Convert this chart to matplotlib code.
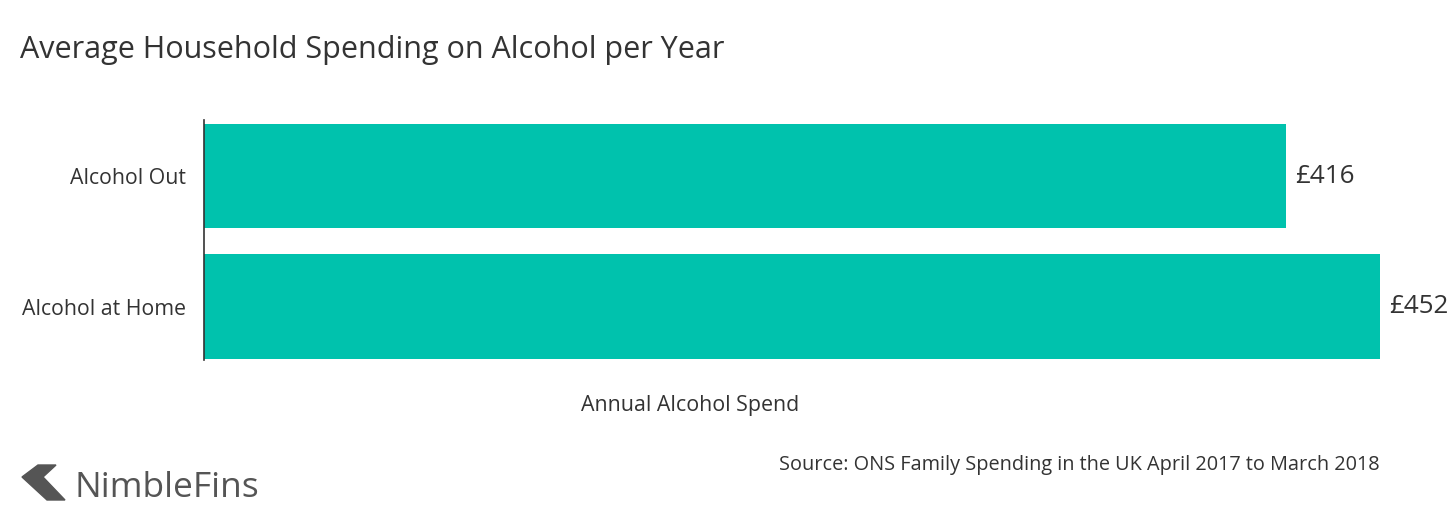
import matplotlib.pyplot as plt
from matplotlib.patches import Polygon

categories = ["Alcohol at Home", "Alcohol Out"]
spend = [452, 416]
value_labels = ["£452", "£416"]

W, H = 1452, 532
fig = plt.figure(figsize=(W / 100, H / 100), dpi=100)
plt.rcParams['font.family'] = ['Open Sans', 'DejaVu Sans']

ax = fig.add_axes([204 / W, 1 - 360 / H, (1380 - 204) / W, (360 - 120) / H])
ax.barh(range(len(categories)), spend, height=0.8, color="#00c2ad")
ax.set_xlim(0, 452)
ax.set_ylim(-0.41, 1.43)
ax.set_yticks(range(len(categories)))
ax.set_yticklabels(categories, fontsize=15.3, color="#333333")
ax.tick_params(axis="y", length=0, pad=13)
ax.set_xticks([])
for s in ["top", "right", "bottom"]:
    ax.spines[s].set_visible(False)
ax.spines["left"].set_color("#333333")
ax.spines["left"].set_linewidth(1.2)

for i, (v, lab) in enumerate(zip(spend, value_labels)):
    ax.text(v + 3.5, i, lab, va="center", ha="left", fontsize=18.7, color="#333333")

fig.text(20 / W, 1 - 50 / H, "Average Household Spending on Alcohol per Year",
         fontsize=22, color="#333333", va="center", ha="left", fontweight="medium")
fig.text(690 / W, 1 - 405 / H, "Annual Alcohol Spend", fontsize=15.4,
         color="#333333", ha="center", va="center")
fig.text(1380 / W, 1 - 465 / H,
         "Source: ONS Family Spending in the UK April 2017 to March 2018",
         fontsize=14.3, color="#333333", ha="right", va="center")

# logo
pts = [(22, 477), (38, 465), (56, 465), (43, 477), (65, 500), (47, 500)]
fig.patches.append(Polygon([(x / W, 1 - y / H) for x, y in pts], closed=True,
                           transform=fig.transFigure, color="#555555"))
fig.text(75 / W, 1 - 488 / H, "NimbleFins", fontsize=25.5, color="#555555",
         ha="left", va="center")

fig.savefig("out.png", dpi=100)
